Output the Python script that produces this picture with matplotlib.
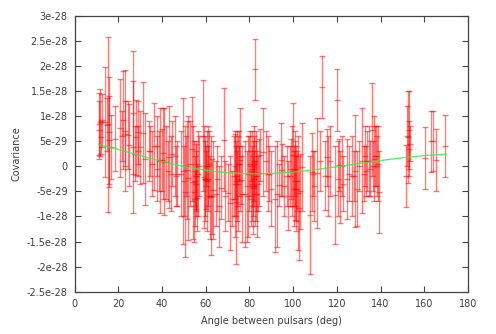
import numpy as np
import matplotlib
matplotlib.use("Agg")
import matplotlib.pyplot as plt
from matplotlib.ticker import FixedLocator

# Pairwise covariance measurements (units of 1e-29): angle, upper and lower bound
angle = [
    11.0, 11.6, 12.3, 11.3, 12.0,
    14.0, 15.2, 15.8, 16.6, 15.0, 15.5,
    18.5, 20.9, 22.2, 23.2, 24.4, 21.5, 22.8, 25.0,
    26.6, 26.8, 28.0, 29.2, 30.0, 27.5, 29.0,
    31.4, 32.3, 33.8, 35.5, 34.5,
    36.5, 37.5, 38.5, 39.0, 40.5, 37.8, 40.0,
    41.0, 42.0, 43.3, 44.5, 45.8, 42.5, 44.0, 46.5,
    47.0, 48.5, 49.5, 50.5, 51.5, 52.0, 50.0, 51.0,
    53.5, 54.2, 54.8, 55.0, 55.2, 55.5, 56.0, 57.0, 53.0, 55.3, 55.7, 56.5,
    58.5, 59.0, 59.5, 60.0, 60.4, 61.0, 62.0, 62.5, 59.8, 60.2, 60.8, 61.5, 63.0,
    63.5, 64.5, 66.0, 67.0, 68.5, 70.0, 65.0, 69.0,
    71.0, 72.0, 73.0, 73.5, 74.0, 74.5, 75.0, 75.8, 76.5,
    73.2, 73.8, 74.2, 74.8, 75.3, 76.0,
    78.0, 79.0, 80.0, 80.5, 81.0, 81.3, 81.7, 82.0, 82.3, 82.6, 83.0, 83.5, 84.5, 86.0, 87.5,
    79.5, 80.2, 80.8, 81.5, 81.9, 82.1, 82.9, 84.0, 85.0,
    88.5, 90.0, 91.5, 92.5, 94.5, 96.0, 97.5, 89.0, 93.5, 95.0, 97.0,
    98.5, 99.5, 100.0, 100.5, 101.0, 101.5, 102.0, 102.8, 104.0,
    99.0, 100.3, 100.8, 101.2, 101.8, 103.0,
    107.5, 108.5, 109.5, 111.0, 112.5, 109.0,
    113.2, 114.5, 115.5, 117.0, 116.0,
    119.3, 120.0, 120.5, 121.5, 122.5, 124.5, 125.5, 121.0, 123.0,
    127.0, 128.5, 129.0, 131.5, 132.5, 128.0, 130.0,
    133.0, 134.0, 135.0, 136.0, 137.0, 138.0, 138.8, 139.3,
    133.5, 134.5, 136.5, 137.5, 138.3,
    151.5, 152.5, 152.8, 153.2, 152.3, 153.5,
    160.5, 163.0, 163.8, 165.5, 169.7,
]
upper = [
    14.6, 15.4, 14.4, 13.0, 9.0,
    19.7, 25.8, 17.8, 10.2, 13.6, 14.0,
    12.0, 17.3, 19.0, 19.2, 13.0, 11.0, 13.0, 12.5,
    22.9, 16.9, 13.3, 13.0, 11.0, 8.0, 8.0,
    16.7, 10.6, 9.0, 7.0, 8.0,
    12.6, 10.0, 7.0, 11.6, 11.6, 6.0, 7.5,
    11.6, 8.0, 12.0, 9.0, 10.0, 5.0, 6.0, 4.0,
    5.0, 7.0, 13.6, 8.0, 9.0, 10.0, 4.0, 6.0,
    13.8, 8.0, 5.0, 2.0, -1.0, 3.0, 0.5, 6.0, 9.0, 4.5, 5.0, 7.0,
    17.1, 8.0, 5.0, 3.0, 7.0, 4.0, 2.0, 6.0, 6.0, 4.0, 8.0, 7.0, 1.5,
    5.0, 1.0, 0.0, 2.0, 15.6, 0.5, 4.0, 1.0,
    2.0, -1.0, 6.0, 7.0, 5.0, 3.0, 7.0, 11.6, 4.0,
    6.5, 4.0, 7.0, 6.0, 4.0, 2.0,
    5.0, 3.0, 6.0, -1.0, 7.0, 4.0, 2.0, 8.0, 1.0, 25.4, 5.0, 3.0, 5.5, 11.6, 7.0,
    6.0, 7.0, 3.0, 5.0, 6.0, 3.0, 7.0, 2.0, 7.5,
    6.0, 3.0, 4.0, 5.0, 8.6, 2.0, 1.0, 4.0, 0.5, 4.5, 4.0,
    4.0, 8.0, 12.6, 3.0, 5.0, 2.0, 6.0, 2.0, 8.6,
    5.5, 4.0, 7.0, 4.0, 3.0, 2.5,
    2.0, 6.6, 3.0, 9.6, 7.0, 3.0,
    21.9, 5.0, 7.5, 8.0, 6.0,
    4.0, 19.3, 5.0, 3.0, 6.0, 5.5, 4.0, 5.5, 2.0,
    6.0, 10.3, 3.0, 11.6, 4.0, 3.0, 5.0,
    8.0, 7.0, 5.0, 16.6, 10.0, 8.0, 8.0, 3.0,
    4.0, 8.0, 5.0, 8.0, 6.0,
    4.3, 14.9, 14.9, 9.0, 12.0, 8.0,
    7.8, 11.0, 11.0, 7.4, 10.2,
]
lower = [
    2.3, 2.1, 3.9, 1.5, 2.5,
    -2.1, -9.1, -4.1, -2.6, 3.0, -3.5,
    -1.0, -2.1, -0.6, -5.0, -0.5, 1.0, 0.0, -4.0,
    -1.5, -9.3, -1.7, 0.5, -3.5, -3.0, -2.0,
    -3.4, -7.7, -3.0, -6.0, -2.0,
    -4.7, -2.0, -5.0, -9.3, -6.5, -7.0, -5.0,
    -9.8, -6.5, -8.4, -4.0, -6.0, -7.0, -9.0, -8.0,
    -8.0, -10.0, -15.4, -18.1, -10.5, -14.6, -10.0, -6.0,
    -7.0, -14.4, -15.1, -8.0, -12.0, -10.0, -13.0, -6.0, -8.0, -8.5, -9.0, -10.0,
    -5.0, -12.4, -10.0, -8.5, -13.0, -9.0, -14.4, -17.7, -11.0, -4.0, -8.0, -6.0, -13.5,
    -14.5, -12.0, -16.0, -10.5, -5.0, -11.0, -9.0, -13.0,
    -16.7, -12.0, -10.0, -14.0, -19.4, -8.0, -6.0, -9.0, -15.0,
    -6.5, -10.0, -11.0, -13.0, -3.0, -7.5,
    -16.0, -15.0, -9.0, -12.0, -8.0, -11.0, -10.0, -7.0, -12.0, 13.3, -9.0, -14.1, -8.0, -6.0, -5.0,
    -14.0, -6.0, -3.0, -13.5, -4.0, -8.0, -11.0, -9.0, -3.0,
    -9.0, -12.0, -17.1, -16.1, -6.0, -10.0, -12.7, -7.0, -8.0, -6.0, -8.0,
    -8.0, -10.0, -8.0, -12.0, -10.7, -11.0, -16.7, -18.7, -9.0,
    -6.5, -6.0, -8.0, -13.0, -9.0, -12.5,
    -21.4, -9.0, -11.0, -12.4, -5.0, -6.0,
    9.6, -8.7, -4.0, -6.0, -10.0,
    -15.4, 7.0, -10.0, -11.4, -6.0, -10.5, -7.0, -5.0, -9.0,
    -10.0, -12.1, -12.0, -9.4, -7.0, -7.0, -5.0,
    -4.0, -5.0, -6.0, -2.0, -7.0, -4.0, -7.0, -13.3,
    -6.0, -6.0, -5.0, -4.0, -6.0,
    -8.2, -3.4, -0.5, -2.0, 0.0, 1.0,
    -4.5, -1.1, -1.0, -5.0, -2.1,
]

# Expected correlation curve (units of 1e-29)
curve_angle = [11, 20, 30, 40, 50, 60, 70, 80, 90, 100, 110, 120, 130, 140, 150, 160, 170]
curve_cov = [4.33, 3.34, 2.12, 0.94, -0.06, -0.82, -1.31, -1.51, -1.45, -1.16,
             -0.69, -0.11, 0.52, 1.14, 1.70, 2.13, 2.40]

y_ticks = [3e-28, 2.5e-28, 2e-28, 1.5e-28, 1e-28, 5e-29, 0,
           -5e-29, -1e-28, -1.5e-28, -2e-28, -2.5e-28]
y_labels = ["3e-28", "2.5e-28", "2e-28", "1.5e-28", "1e-28", "5e-29", "0",
            "-5e-29", "-1e-28", "-1.5e-28", "-2e-28", "-2.5e-28"]
x_ticks = [0, 20, 40, 60, 80, 100, 120, 140, 160, 180]

scale = 1e-29
hi = np.array(upper) * scale
lo = np.array(lower) * scale
center = (hi + lo) / 2
err = (hi - lo) / 2

fig = plt.figure(figsize=(4.96, 3.34), dpi=100)
ax = fig.add_axes([0.1506, 0.1266, 0.7929, 0.8264])

ax.errorbar(angle, center, yerr=err, fmt="_", color="#ff0000", ecolor="#ff0000",
            elinewidth=1.0, capsize=2.5, capthick=1.0, markersize=5,
            markeredgewidth=1.0, alpha=0.5, zorder=2)
ax.plot(np.array(curve_angle), np.array(curve_cov) * scale, color="#33ee44",
        lw=1.0, alpha=0.8, zorder=3)

ax.set_xlim(0, 180)
ax.set_ylim(-2.5e-28, 3e-28)
ax.xaxis.set_major_locator(FixedLocator(x_ticks))
ax.set_yticks(y_ticks)
ax.set_yticklabels(y_labels)

text_color = "#404040"
ax.tick_params(direction="in", top=True, right=True, length=4, width=0.8,
               colors="#444444", labelcolor=text_color, labelsize=7, pad=5)
for s in ax.spines.values():
    s.set_color("#444444")
    s.set_linewidth(0.9)

ax.set_xlabel("Angle between pulsars (deg)", fontsize=7, color=text_color, labelpad=5)
ax.set_ylabel("Covariance", fontsize=7, color=text_color, labelpad=4)

fig.savefig("out.png", dpi=100)
